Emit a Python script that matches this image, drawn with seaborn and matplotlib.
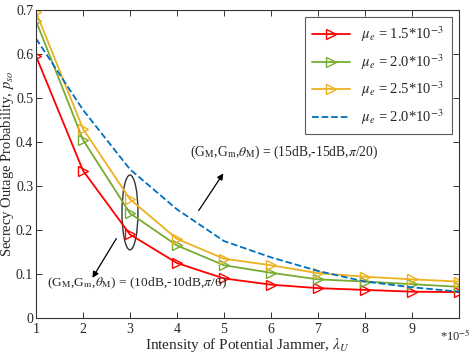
import numpy as np
import pandas as pd
import matplotlib
matplotlib.use("Agg")
import matplotlib.pyplot as plt
import seaborn as sns
from matplotlib.patches import Ellipse

# -----------------------------------
# DATA
# -----------------------------------

lam_u = [1, 2, 3, 4, 5, 6, 7, 8, 9, 10]

red_15 = [0.595, 0.335, 0.190, 0.125, 0.090, 0.076, 0.068, 0.064, 0.060, 0.059]
green_20 = [0.675, 0.405, 0.238, 0.165, 0.120, 0.103, 0.088, 0.083, 0.077, 0.071]
yellow_25 = [0.695, 0.430, 0.270, 0.180, 0.135, 0.120, 0.102, 0.094, 0.088, 0.083]
blue_20 = [0.635, 0.473, 0.338, 0.247, 0.175, 0.138, 0.107, 0.083, 0.070, 0.060]

labels = [r"$\mu_e$ = 1.5*10$^{-3}$",
          r"$\mu_e$ = 2.0*10$^{-3}$",
          r"$\mu_e$ = 2.5*10$^{-3}$",
          r"$\mu_e$ = 2.0*10$^{-3}$"]

colors = ["#ff0000", "#77ac30", "#edb120", "#0072bd"]

# -----------------------------------
# STYLE
# -----------------------------------

sns.set_style("ticks")
plt.rcParams["font.family"] = ["Liberation Serif", "DejaVu Serif"]
plt.rcParams["mathtext.fontset"] = "stix"
plt.rcParams["xtick.direction"] = "in"
plt.rcParams["ytick.direction"] = "in"

fig = plt.figure(figsize=(4.74, 3.55), dpi=100)
ax = fig.add_axes([0.076, 0.104, 0.892, 0.868])

# -----------------------------------
# LINES
# -----------------------------------

series = [red_15, green_20, yellow_25]
for vals, lab, col in zip(series, labels[:3], colors[:3]):
    df = pd.DataFrame({"x": lam_u, "y": vals})
    sns.lineplot(data=df, x="x", y="y", ax=ax, color=col, label=lab,
                 marker=">", markersize=7, markerfacecolor="none",
                 markeredgecolor=col, markeredgewidth=1.0, linewidth=1.3)

df_b = pd.DataFrame({"x": lam_u, "y": blue_20})
sns.lineplot(data=df_b, x="x", y="y", ax=ax, color=colors[3], label=labels[3],
             linestyle="--", linewidth=1.3)

# -----------------------------------
# ANNOTATIONS
# -----------------------------------

ax.add_patch(Ellipse((3.0, 0.24), 0.34, 0.17, fill=False, edgecolor="#333333", linewidth=1.0))

ax.annotate("", xy=(5.02, 0.334), xytext=(4.43, 0.239),
            arrowprops=dict(arrowstyle="-|>", color="black", lw=0.9, mutation_scale=9))
ax.annotate("", xy=(2.17, 0.086), xytext=(2.74, 0.186),
            arrowprops=dict(arrowstyle="-|>", color="black", lw=0.9, mutation_scale=9))

ax.text(4.28, 0.377, r"(G$_\mathrm{M}$,G$_\mathrm{m}$,$\theta_\mathrm{M}$) = (15dB,-15dB,$\pi$/20)",
        fontsize=9.8, va="center", ha="left")
ax.text(1.23, 0.078, r"(G$_\mathrm{M}$,G$_\mathrm{m}$,$\theta_\mathrm{M}$) = (10dB,-10dB,$\pi$/6)",
        fontsize=9.7, va="center", ha="left")

# -----------------------------------
# AXES
# -----------------------------------

ax.set_xlim(1, 10)
ax.set_ylim(0, 0.7)
ax.set_xticks(range(1, 11))
ax.set_xticklabels([str(i) for i in range(1, 10)] + [""])
ax.set_yticks(np.arange(0, 0.71, 0.1))
ax.set_yticklabels(["0", "0.1", "0.2", "0.3", "0.4", "0.5", "0.6", "0.7"])
ax.tick_params(labelsize=10, top=True, right=True, length=4, width=0.7, colors="#333333",
               labelcolor="#262626")
ax.tick_params(axis="y", pad=2)
for s in ax.spines.values():
    s.set_visible(True)
    s.set_linewidth(0.8)
    s.set_color("#333333")

ax.text(9.6, -0.04, r"*10$^{-5}$", fontsize=9, ha="left", va="center", color="#262626")

ax.set_xlabel(r"Intensity of Potential Jammer, $\lambda_U$", fontsize=11)
ax.set_ylabel(r"Secrecy Outage Probability, $p_{so}$", fontsize=10.5)
ax.xaxis.set_label_coords(0.5, -0.058)
ax.yaxis.set_label_coords(-0.047, 0.5)

leg = ax.legend(loc="upper right", fontsize=10.5, frameon=True, fancybox=False,
                edgecolor="#333333", borderpad=0.5, handlelength=2.6, labelspacing=0.55)
leg.get_frame().set_linewidth(0.8)

fig.savefig("out.png", dpi=100)
